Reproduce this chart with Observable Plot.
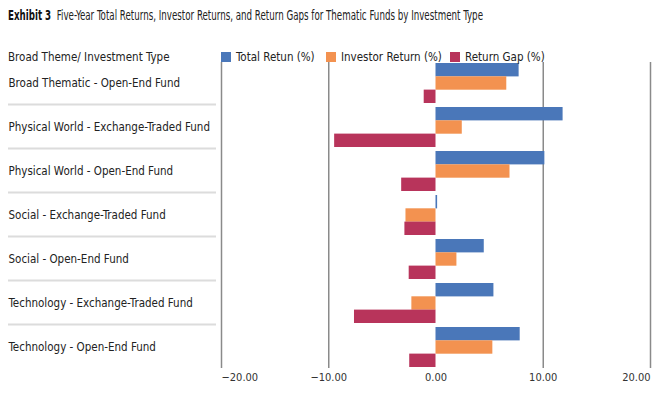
<!DOCTYPE html>
<html>
<head>
<meta charset="utf-8">
<script src="https://cdn.jsdelivr.net/npm/d3@7"></script>
<script src="https://cdn.jsdelivr.net/npm/@observablehq/plot@0.6"></script>
<style>
  html, body { margin: 0; padding: 0; background: #fff; }
  #wrap { position: relative; width: 658px; height: 397px; overflow: hidden;
          font-family: 'DejaVu Sans Condensed', 'Liberation Sans Narrow', sans-serif; color: #222; }
  #title { position: absolute; left: 8px; top: 7px; font-size: 14px; white-space: nowrap; color: #222; transform-origin: 0 0; }
  #title b { color: #111; }
  #header { position: absolute; left: 8px; top: 50px; font-size: 11.5px; white-space: nowrap; }
  .leg { position: absolute; top: 50px; font-size: 11.5px; white-space: nowrap; display: flex; align-items: center; }
  .sw { display: inline-block; width: 10px; height: 10px; margin-right: 5px; }
  #chart { position: absolute; left: 0; top: 30px; }
</style>
</head>
<body>
<div id="wrap">
  <div id="title"><b>Exhibit 3</b>&nbsp; Five-Year Total Returns, Investor Returns, and Return Gaps for Thematic Funds by Investment Type</div>
  <div id="chart"></div>
  <div id="header">Broad Theme/ Investment Type</div>
  <div id="legend"></div>
</div>
<script>
const categories = [
  "Broad Thematic - Open-End Fund",
  "Physical World - Exchange-Traded Fund",
  "Physical World - Open-End Fund",
  "Social - Exchange-Traded Fund",
  "Social - Open-End Fund",
  "Technology - Exchange-Traded Fund",
  "Technology - Open-End Fund"
];
const seriesNames = ["Total Retun (%)", "Investor Return (%)", "Return Gap (%)"];
const seriesColors = ["#4a77b9", "#f39250", "#b8345b"];
const totalReturn    = [7.75, 11.85, 10.15, 0.15, 4.5, 5.4, 7.85];
const investorReturn = [6.6, 2.45, 6.9, -2.8, 1.95, -2.25, 5.3];
const returnGap      = [-1.1, -9.45, -3.2, -2.9, -2.5, -7.6, -2.45];
const xTicksMid = [-10, 0, 10];
const xTickFirst = [-20];
const xTickLast = [20];
const gridTicks = [-20, -10, 10, 20];

const seriesValues = [totalReturn, investorReturn, returnGap];
const rows = [];
seriesNames.forEach((s, k) => categories.forEach((c, i) => rows.push({cat: c, series: s, k, value: seriesValues[k][i]})));

const W = 658, H = 367, mt = 32, mb = 29, ml = 221, mr = 8;
const padInner = 0.1;
const step = (H - mt - mb) / (categories.length - padInner);
const bw = step * (1 - padInner);
const fmt = d3.format(".2f");
const FONT = "'DejaVu Sans Condensed', 'Liberation Sans Narrow', sans-serif";

const bars = seriesNames.map((s, k) => Plot.barX(rows.filter(d => d.k === k), {
  x: "value", y: "cat", fill: seriesColors[k],
  insetTop: k * bw / 3, insetBottom: (2 - k) * bw / 3
}));

const axisOpts = {tickSize: 0, tickPadding: 5, tickFormat: fmt, label: null, fontSize: 11, fill: "#333"};
const plot = Plot.plot({
  width: W, height: H,
  marginTop: mt, marginBottom: mb, marginLeft: ml, marginRight: mr,
  style: {fontFamily: FONT, fontSize: "11px", color: "#333", background: "transparent"},
  x: {domain: [-20, 20], axis: null},
  y: {domain: categories, paddingInner: padInner, paddingOuter: 0, axis: null},
  marks: [
    Plot.ruleX(gridTicks, {stroke: "#8a8a8a", strokeWidth: 1.5}),
    ...bars,
    Plot.axisX({...axisOpts, ticks: xTicksMid}),
    Plot.axisX({...axisOpts, ticks: xTickFirst, textAnchor: "start"}),
    Plot.axisX({...axisOpts, ticks: xTickLast, textAnchor: "end"}),
    Plot.text(categories, {y: d => d, text: d => d, frameAnchor: "left", textAnchor: "start", dx: -213, fontSize: 11.5, fill: "#222"})
  ]
});
document.getElementById("chart").appendChild(plot);

// separators between category rows in the label area
const ys = plot.scale("y");
d3.select(plot).append("g").selectAll("line")
  .data(categories.slice(0, -1))
  .join("line")
  .attr("x1", 8).attr("x2", 216)
  .attr("y1", d => ys.apply(d) + ys.bandwidth + 1.5)
  .attr("y2", d => ys.apply(d) + ys.bandwidth + 1.5)
  .attr("stroke", "#dcdcdc").attr("stroke-width", 2);

// legend
const legX = [221, 326, 450];
const legend = document.getElementById("legend");
seriesNames.forEach((s, k) => {
  const el = document.createElement("div");
  el.className = "leg";
  el.style.left = legX[k] + "px";
  el.innerHTML = `<span class="sw" style="background:${seriesColors[k]}"></span><span>${s}</span>`;
  legend.appendChild(el);
});

// fit title to the reference width (condensed look)
const title = document.getElementById("title");
const tw = title.getBoundingClientRect().width;
title.style.transform = `scaleX(${475 / tw})`;
</script>
</body>
</html>
